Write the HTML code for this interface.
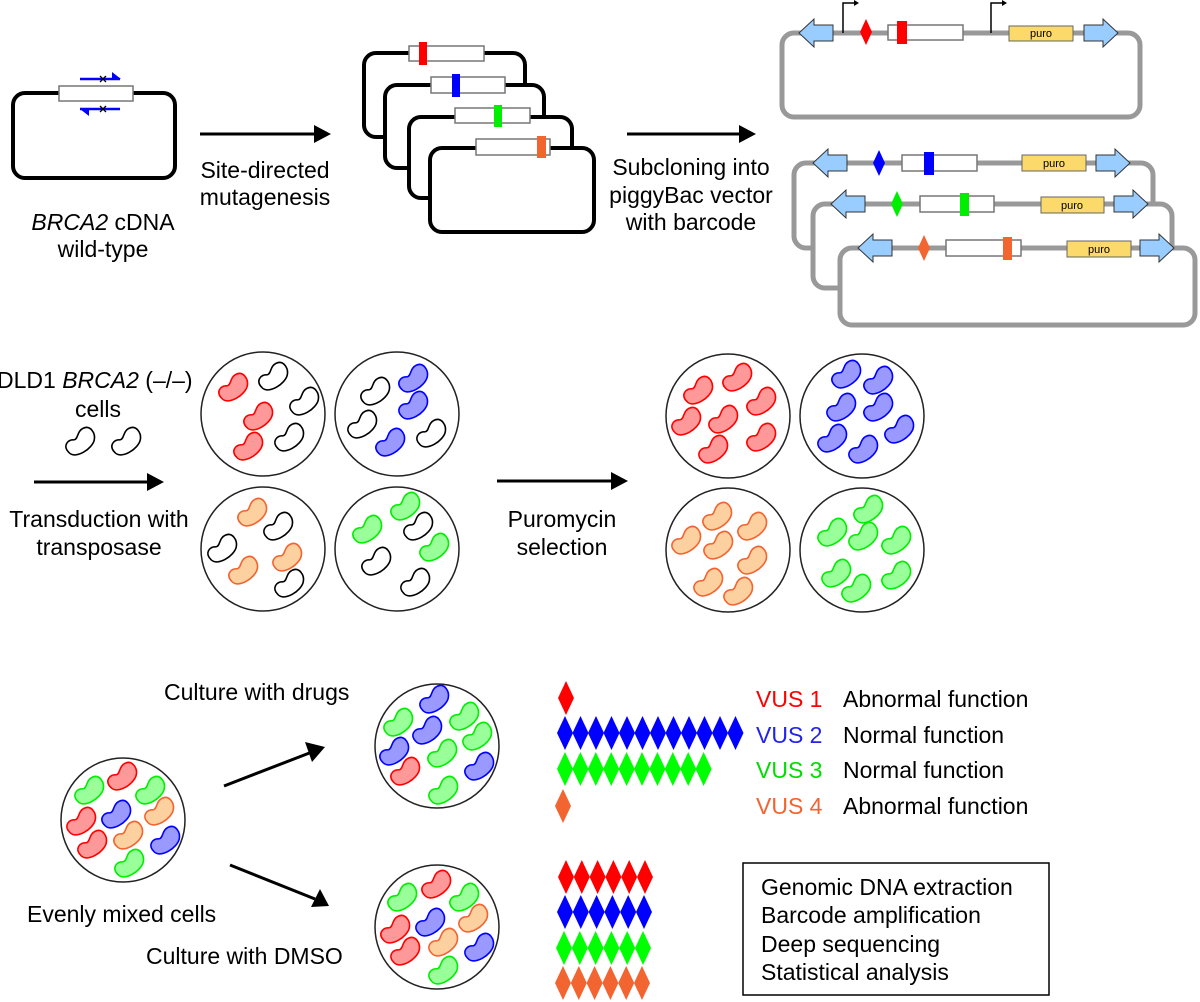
<!DOCTYPE html>
<html><head><meta charset="utf-8"><style>
html,body{margin:0;padding:0;background:#fff}
svg{display:block}
text{font-family:"Liberation Sans",Arial,sans-serif;font-size:23px;fill:#000}
.r{fill:#ff9999;stroke:#ff0000}
.b{fill:#9999ff;stroke:#0000ff}
.g{fill:#99ff99;stroke:#00ee00}
.o{fill:#fdd0a0;stroke:#f26430}
.k{fill:#fff;stroke:#000}
.cell{stroke-width:1.6}
.dish{fill:#fff;stroke:#222;stroke-width:1.5}
.pl{fill:#fff;stroke:#000;stroke-width:4}
.pg{fill:#fff;stroke:#999;stroke-width:5}
.ins{fill:#fff;stroke:#777;stroke-width:1.5}
.arr{fill:#99ccff;stroke:#333;stroke-width:1}
.puro{fill:#fbd96b;stroke:#666;stroke-width:1}
.pt{font-size:11px}
</style></head><body>
<svg width="1200" height="1002" viewBox="0 0 1200 1002" xmlns="http://www.w3.org/2000/svg">
<defs>
<path id="bean" d="M-15,3 C-17,-6 -9,-9 -4,-5 C0,-3 3,-11 10,-10 C18,-9 18,1 13,6 C7,12 -13,13 -15,3 Z"/>
<path id="dm" d="M0,-17 L8,0 L0,17 L-8,0Z"/>
<path id="ds" d="M0,-13 L6,0 L0,13 L-6,0Z"/>
<path id="la" d="M0,0 L15,-14 L15,-8 L34,-8 L34,8 L15,8 L15,14Z"/>
<path id="ra" d="M0,0 L-15,-14 L-15,-8 L-34,-8 L-34,8 L-15,8 L-15,14Z"/>
</defs>

<!-- Plasmid 1 -->
<rect class="pl" x="13" y="93" width="162" height="85" rx="12"/>
<rect class="ins" x="59" y="86" width="74" height="15"/>
<line x1="80" y1="79" x2="120" y2="79" stroke="#0000ff" stroke-width="2.5"/>
<path d="M112,72 L121,79 L112,79Z" fill="#0000ff"/>
<line x1="80" y1="109" x2="120" y2="109" stroke="#0000ff" stroke-width="2.5"/>
<path d="M80,109 L89,109 L89,116Z" fill="#0000ff"/>
<path d="M100,76 L106,82 M106,76 L100,82 M100,106 L106,112 M106,106 L100,112" stroke="#000" stroke-width="1.3"/>
<text x="103" y="230" text-anchor="middle"><tspan font-style="italic">BRCA2</tspan> cDNA</text>
<text x="103" y="257" text-anchor="middle">wild-type</text>

<line x1="200" y1="134" x2="318" y2="134" stroke="#000" stroke-width="3"/>
<path d="M314,125 L331,134 L314,143Z"/>
<text x="265" y="178" text-anchor="middle">Site-directed</text>
<text x="265" y="205" text-anchor="middle">mutagenesis</text>

<!-- Stacked plasmids -->
<rect class="pl" x="364" y="53" width="161" height="84" rx="12"/>
<rect class="ins" x="409" y="46" width="75" height="15"/>
<rect x="419" y="42" width="8" height="23" fill="#ff0000"/>
<rect class="pl" x="385" y="85" width="159" height="83" rx="12"/>
<rect class="ins" x="431" y="77" width="74" height="16"/>
<rect x="452" y="74" width="8" height="23" fill="#0000ff"/>
<rect class="pl" x="409" y="117" width="163" height="81" rx="12"/>
<rect class="ins" x="455" y="108" width="75" height="15"/>
<rect x="494" y="105" width="8" height="22" fill="#00ee00"/>
<rect class="pl" x="430" y="148" width="164" height="84" rx="12"/>
<rect class="ins" x="476" y="139" width="74" height="16"/>
<rect x="537" y="136" width="9" height="22" fill="#f26430"/>

<line x1="627" y1="134" x2="742" y2="134" stroke="#000" stroke-width="3"/>
<path d="M739,125 L756,134 L739,143Z"/>
<text x="691" y="175" text-anchor="middle">Subcloning into</text>
<text x="691" y="203" text-anchor="middle">piggyBac vector</text>
<text x="691" y="230" text-anchor="middle">with barcode</text>

<!-- piggyBac top -->
<rect class="pg" x="782" y="33" width="358" height="84" rx="12"/>
<path d="M843,33 L843,3 L855,3" fill="none" stroke="#000" stroke-width="1.5"/><path d="M854,0 L859,3 L854,6Z"/>
<path d="M991,33 L991,3 L1003,3" fill="none" stroke="#000" stroke-width="1.5"/><path d="M1002,0 L1007,3 L1002,6Z"/>
<use href="#la" x="799" y="33" class="arr"/>
<use href="#ds" x="866" y="32" fill="#ff0000"/>
<rect class="ins" x="888" y="25" width="75" height="15"/>
<rect x="897" y="21" width="10" height="23" fill="#ff0000"/>
<rect class="puro" x="1009" y="26" width="64" height="15"/>
<text class="pt" x="1041" y="37" text-anchor="middle">puro</text>
<use href="#ra" x="1118" y="33" class="arr"/>

<!-- piggyBac stack -->
<rect class="pg" x="794" y="163" width="359" height="85" rx="12"/>
<use href="#la" x="813" y="163" class="arr"/>
<use href="#ds" x="879" y="163" fill="#0000ff"/>
<rect class="ins" x="902" y="155" width="75" height="16"/>
<rect x="924" y="152" width="10" height="23" fill="#0000ff"/>
<rect class="puro" x="1022" y="155" width="64" height="16"/>
<text class="pt" x="1054" y="167" text-anchor="middle">puro</text>
<use href="#ra" x="1130" y="163" class="arr"/>

<rect class="pg" x="813" y="204" width="359" height="84" rx="12"/>
<use href="#la" x="831" y="204" class="arr"/>
<use href="#ds" x="897" y="204" fill="#00ee00"/>
<rect class="ins" x="920" y="196" width="74" height="16"/>
<rect x="960" y="193" width="9" height="23" fill="#00ee00"/>
<rect class="puro" x="1041" y="197" width="63" height="16"/>
<text class="pt" x="1072" y="209" text-anchor="middle">puro</text>
<use href="#ra" x="1148" y="204" class="arr"/>

<rect class="pg" x="840" y="248" width="355" height="77" rx="12"/>
<use href="#la" x="858" y="248" class="arr"/>
<use href="#ds" x="924" y="248" fill="#f26430"/>
<rect class="ins" x="946" y="240" width="75" height="16"/>
<rect x="1003" y="237" width="9" height="23" fill="#f26430"/>
<rect class="puro" x="1067" y="241" width="64" height="16"/>
<text class="pt" x="1099" y="253" text-anchor="middle">puro</text>
<use href="#ra" x="1174" y="248" class="arr"/>

<!-- middle section -->
<text x="-3" y="388">DLD1 <tspan font-style="italic">BRCA2</tspan> (–/–)</text>
<text x="98" y="417" text-anchor="middle">cells</text>
<g class="cell">
<use href="#bean" class="k" transform="translate(80,442) rotate(-32)"/>
<use href="#bean" class="k" transform="translate(126,442) rotate(-32)"/>
</g>
<line x1="34" y1="482" x2="150" y2="482" stroke="#000" stroke-width="3"/>
<path d="M147,473 L164,482 L147,491Z"/>
<text x="99" y="527" text-anchor="middle">Transduction with</text>
<text x="99" y="555" text-anchor="middle">transposase</text>
<line x1="497" y1="481" x2="614" y2="481" stroke="#000" stroke-width="3"/>
<path d="M611,472 L628,481 L611,490Z"/>
<text x="562" y="527" text-anchor="middle">Puromycin</text>
<text x="562" y="555" text-anchor="middle">selection</text>

<circle class="dish" cx="263" cy="414" r="62"/>
<circle class="dish" cx="397" cy="414" r="62"/>
<circle class="dish" cx="263" cy="549" r="62"/>
<circle class="dish" cx="397" cy="549" r="62"/>
<circle class="dish" cx="728" cy="416" r="62"/>
<circle class="dish" cx="862" cy="416" r="62"/>
<circle class="dish" cx="728" cy="550" r="62"/>
<circle class="dish" cx="862" cy="550" r="62"/>
<circle class="dish" cx="123" cy="820" r="62"/>
<circle class="dish" cx="437" cy="746" r="62"/>
<circle class="dish" cx="437" cy="927" r="62"/>

<g class="cell">
<use href="#bean" class="r" transform="translate(233,388) rotate(-32)"/>
<use href="#bean" class="r" transform="translate(258,417) rotate(-32)"/>
<use href="#bean" class="r" transform="translate(248,447) rotate(-32)"/>
<use href="#bean" class="k" transform="translate(273,377) rotate(-32)"/>
<use href="#bean" class="k" transform="translate(304,402) rotate(-32)"/>
<use href="#bean" class="k" transform="translate(289,438) rotate(-32)"/>
<use href="#bean" class="k" transform="translate(375,392) rotate(-32)"/>
<use href="#bean" class="b" transform="translate(413,379) rotate(-32)"/>
<use href="#bean" class="b" transform="translate(413,406) rotate(-32)"/>
<use href="#bean" class="k" transform="translate(362,425) rotate(-32)"/>
<use href="#bean" class="b" transform="translate(390,443) rotate(-32)"/>
<use href="#bean" class="k" transform="translate(431,434) rotate(-32)"/>
<use href="#bean" class="o" transform="translate(252,513) rotate(-32)"/>
<use href="#bean" class="k" transform="translate(278,527) rotate(-32)"/>
<use href="#bean" class="k" transform="translate(222,549) rotate(-32)"/>
<use href="#bean" class="o" transform="translate(287,558) rotate(-32)"/>
<use href="#bean" class="o" transform="translate(243,571) rotate(-32)"/>
<use href="#bean" class="k" transform="translate(289,584) rotate(-32)"/>
<use href="#bean" class="g" transform="translate(405,507) rotate(-32)"/>
<use href="#bean" class="g" transform="translate(367,530) rotate(-32)"/>
<use href="#bean" class="k" transform="translate(418,527) rotate(-32)"/>
<use href="#bean" class="g" transform="translate(434,548) rotate(-32)"/>
<use href="#bean" class="k" transform="translate(376,562) rotate(-32)"/>
<use href="#bean" class="k" transform="translate(415,583) rotate(-32)"/>
<use href="#bean" class="r" transform="translate(698,391) rotate(-32)"/>
<use href="#bean" class="r" transform="translate(737,378) rotate(-32)"/>
<use href="#bean" class="r" transform="translate(761,402) rotate(-32)"/>
<use href="#bean" class="r" transform="translate(686,422) rotate(-32)"/>
<use href="#bean" class="r" transform="translate(723,420) rotate(-32)"/>
<use href="#bean" class="r" transform="translate(761,438) rotate(-32)"/>
<use href="#bean" class="r" transform="translate(713,450) rotate(-32)"/>
<use href="#bean" class="b" transform="translate(846,375) rotate(-32)"/>
<use href="#bean" class="b" transform="translate(878,381) rotate(-32)"/>
<use href="#bean" class="b" transform="translate(841,408) rotate(-32)"/>
<use href="#bean" class="b" transform="translate(878,408) rotate(-32)"/>
<use href="#bean" class="b" transform="translate(899,430) rotate(-32)"/>
<use href="#bean" class="b" transform="translate(832,439) rotate(-32)"/>
<use href="#bean" class="b" transform="translate(863,450) rotate(-32)"/>
<use href="#bean" class="o" transform="translate(717,517) rotate(-32)"/>
<use href="#bean" class="o" transform="translate(752,527) rotate(-32)"/>
<use href="#bean" class="o" transform="translate(686,541) rotate(-32)"/>
<use href="#bean" class="o" transform="translate(718,546) rotate(-32)"/>
<use href="#bean" class="o" transform="translate(752,561) rotate(-32)"/>
<use href="#bean" class="o" transform="translate(708,583) rotate(-32)"/>
<use href="#bean" class="o" transform="translate(738,592) rotate(-32)"/>
<use href="#bean" class="g" transform="translate(868,510) rotate(-32)"/>
<use href="#bean" class="g" transform="translate(832,533) rotate(-32)"/>
<use href="#bean" class="g" transform="translate(863,537) rotate(-32)"/>
<use href="#bean" class="g" transform="translate(896,541) rotate(-32)"/>
<use href="#bean" class="g" transform="translate(836,574) rotate(-32)"/>
<use href="#bean" class="g" transform="translate(896,576) rotate(-32)"/>
<use href="#bean" class="g" transform="translate(856,589) rotate(-32)"/>
<use href="#bean" class="g" transform="translate(89,791) rotate(-32)"/>
<use href="#bean" class="r" transform="translate(122,777) rotate(-32)"/>
<use href="#bean" class="g" transform="translate(150,791) rotate(-32)"/>
<use href="#bean" class="r" transform="translate(81,822) rotate(-32)"/>
<use href="#bean" class="b" transform="translate(116,815) rotate(-32)"/>
<use href="#bean" class="o" transform="translate(159,812) rotate(-32)"/>
<use href="#bean" class="r" transform="translate(92,845) rotate(-32)"/>
<use href="#bean" class="o" transform="translate(128,836) rotate(-32)"/>
<use href="#bean" class="b" transform="translate(165,841) rotate(-32)"/>
<use href="#bean" class="g" transform="translate(129,864) rotate(-32)"/>
<use href="#bean" class="b" transform="translate(434,700) rotate(-32)"/>
<use href="#bean" class="g" transform="translate(398,723) rotate(-32)"/>
<use href="#bean" class="b" transform="translate(427,731) rotate(-32)"/>
<use href="#bean" class="g" transform="translate(464,717) rotate(-32)"/>
<use href="#bean" class="g" transform="translate(477,737) rotate(-32)"/>
<use href="#bean" class="b" transform="translate(394,752) rotate(-32)"/>
<use href="#bean" class="g" transform="translate(442,754) rotate(-32)"/>
<use href="#bean" class="r" transform="translate(405,772) rotate(-32)"/>
<use href="#bean" class="b" transform="translate(479,767) rotate(-32)"/>
<use href="#bean" class="g" transform="translate(443,791) rotate(-32)"/>
<use href="#bean" class="r" transform="translate(436,885) rotate(-32)"/>
<use href="#bean" class="g" transform="translate(402,898) rotate(-32)"/>
<use href="#bean" class="g" transform="translate(464,898) rotate(-32)"/>
<use href="#bean" class="r" transform="translate(395,930) rotate(-32)"/>
<use href="#bean" class="b" transform="translate(430,923) rotate(-32)"/>
<use href="#bean" class="o" transform="translate(473,919) rotate(-32)"/>
<use href="#bean" class="r" transform="translate(405,952) rotate(-32)"/>
<use href="#bean" class="o" transform="translate(443,943) rotate(-32)"/>
<use href="#bean" class="b" transform="translate(479,948) rotate(-32)"/>
<use href="#bean" class="g" transform="translate(443,971) rotate(-32)"/>
</g>

<line x1="224" y1="786" x2="312" y2="752" stroke="#000" stroke-width="3"/>
<path d="M305,742 L325,747 L312,762Z"/>
<line x1="230" y1="865" x2="315" y2="899" stroke="#000" stroke-width="3"/>
<path d="M320,889 L329,906 L311,907Z"/>
<text x="164" y="700">Culture with drugs</text>
<text x="27" y="922">Evenly mixed cells</text>
<text x="146" y="964">Culture with DMSO</text>

<use href="#dm" x="566" y="698" fill="#ff0000"/>
<g fill="#0000ff">
<use href="#dm" x="565" y="733"/><use href="#dm" x="580.5" y="733"/><use href="#dm" x="596" y="733"/><use href="#dm" x="611.5" y="733"/><use href="#dm" x="627" y="733"/><use href="#dm" x="642.5" y="733"/><use href="#dm" x="658" y="733"/><use href="#dm" x="673.5" y="733"/><use href="#dm" x="689" y="733"/><use href="#dm" x="704.5" y="733"/><use href="#dm" x="720" y="733"/><use href="#dm" x="735.5" y="733"/>
</g>
<g fill="#00ff00">
<use href="#dm" x="565" y="769"/><use href="#dm" x="580.4" y="769"/><use href="#dm" x="595.8" y="769"/><use href="#dm" x="611.2" y="769"/><use href="#dm" x="626.6" y="769"/><use href="#dm" x="642" y="769"/><use href="#dm" x="657.4" y="769"/><use href="#dm" x="672.8" y="769"/><use href="#dm" x="688.2" y="769"/><use href="#dm" x="703.6" y="769"/>
</g>
<use href="#dm" x="563" y="806" fill="#f26430"/>
<g fill="#ff0000"><use href="#dm" x="566" y="877"/><use href="#dm" x="581.8" y="877"/><use href="#dm" x="597.6" y="877"/><use href="#dm" x="613.4" y="877"/><use href="#dm" x="629.2" y="877"/><use href="#dm" x="645" y="877"/></g>
<g fill="#0000ff"><use href="#dm" x="565" y="912"/><use href="#dm" x="580.8" y="912"/><use href="#dm" x="596.6" y="912"/><use href="#dm" x="612.4" y="912"/><use href="#dm" x="628.2" y="912"/><use href="#dm" x="644" y="912"/></g>
<g fill="#00ff00"><use href="#dm" x="564" y="948"/><use href="#dm" x="579.8" y="948"/><use href="#dm" x="595.6" y="948"/><use href="#dm" x="611.4" y="948"/><use href="#dm" x="627.2" y="948"/><use href="#dm" x="643" y="948"/></g>
<g fill="#f26430"><use href="#dm" x="563" y="983"/><use href="#dm" x="578.8" y="983"/><use href="#dm" x="594.6" y="983"/><use href="#dm" x="610.4" y="983"/><use href="#dm" x="626.2" y="983"/><use href="#dm" x="642" y="983"/></g>

<text x="756" y="707" style="fill:#ff0000">VUS 1</text>
<text x="756" y="743" style="fill:#2222ee">VUS 2</text>
<text x="756" y="778" style="fill:#00dd00">VUS 3</text>
<text x="756" y="814" style="fill:#f26430">VUS 4</text>
<text x="843" y="707">Abnormal function</text>
<text x="843" y="743">Normal function</text>
<text x="843" y="778">Normal function</text>
<text x="843" y="814">Abnormal function</text>

<rect x="743" y="863" width="306" height="132" fill="#fff" stroke="#000" stroke-width="1.5"/>
<text x="761" y="895">Genomic DNA extraction</text>
<text x="761" y="923">Barcode amplification</text>
<text x="761" y="952">Deep sequencing</text>
<text x="761" y="980">Statistical analysis</text>
</svg>
</body></html>
